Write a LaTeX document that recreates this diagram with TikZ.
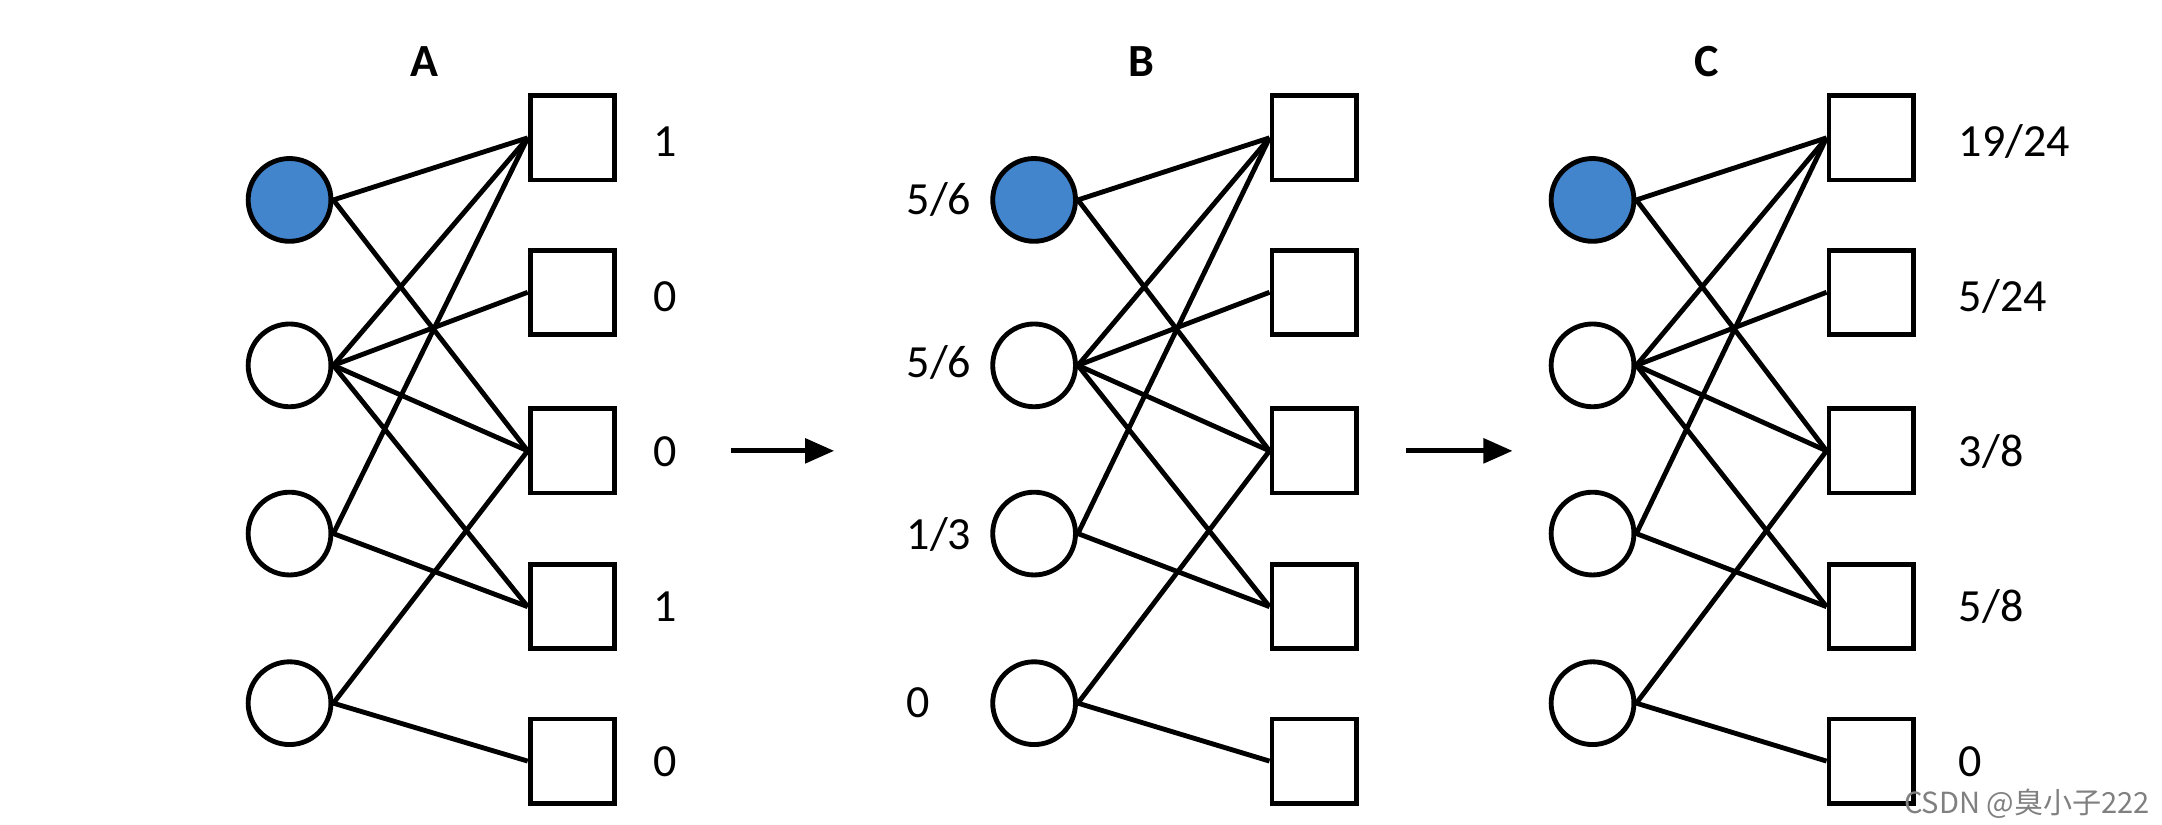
\documentclass[tikz,border=0pt]{standalone}
\usepackage{fontspec}
\setmainfont{Carlito}
\newfontfamily\cjk{Noto Sans CJK SC}
\usetikzlibrary{arrows.meta,positioning}
\definecolor{seedblue}{RGB}{66,133,205}
\tikzset{user/.style={circle, draw=black, line width=1pt, minimum size=0.6cm, inner sep=0pt}}
\tikzset{seed/.style={user, fill=seedblue}}
\tikzset{item/.style={rectangle, draw=black, line width=1pt, minimum size=0.61cm, inner sep=0pt}}
\tikzset{score/.style={font=\fontsize{9.5}{11}\selectfont, inner sep=0pt}}
\tikzset{title/.style={font=\fontsize{9.5}{11}\selectfont\bfseries, inner sep=0pt}}
\tikzset{edge/.style={line width=1pt}}
\begin{document}
\begin{tikzpicture}[x=0.01cm, y=-0.01cm]
\useasboundingbox (0,0) rectangle (1568,598);
\foreach \p/\cx/\sx in {A/210/415, B/750/953, C/1155/1357} {
    % users
    \node[seed] (\p-c1) at (\cx,145) {};
    \node[user] (\p-c2) at (\cx,265) {};
    \node[user] (\p-c3) at (\cx,387) {};
    \node[user] (\p-c4) at (\cx,510) {};
    % items
    \node[item] (\p-s1) at (\sx,100) {};
    \node[item] (\p-s2) at (\sx,212) {};
    \node[item] (\p-s3) at (\sx,327) {};
    \node[item] (\p-s4) at (\sx,440) {};
    \node[item] (\p-s5) at (\sx,552) {};
    \foreach \u/\i in {1/1, 1/3, 2/1, 2/2, 2/3, 2/4, 3/1, 3/4, 4/3, 4/5}
        \draw[edge] (\p-c\u.east) -- (\p-s\i.west);
}
\node[title] (tA) at (308,45) {A};
\node[title] (tB) at (828,45) {B};
\node[title] (tC) at (1238,45) {C};
% scores in A
\foreach \i/\v in {1/1, 2/0, 3/0, 4/1, 5/0}
    \node[score, anchor=west] (a\i) at (473,\i*112.5-10) {\v};
% scores in B
\node[score, anchor=west] (b1) at (657,145) {5/6};
\node[score, anchor=west] (b2) at (657,263) {5/6};
\node[score, anchor=west] (b3) at (657,388) {1/3};
\node[score, anchor=west] (b4) at (657,510) {0};
% scores in C
\foreach \i/\v in {1/19\slash 24, 2/5\slash 24, 3/3\slash 8, 4/5\slash 8, 5/0}
    \node[score, anchor=west] (c\i) at (1420,\i*112.5-10) {\v};
\coordinate (r1s) at (530,327);
\coordinate (r1e) at (605,327);
\coordinate (r2s) at (1020,327);
\coordinate (r2e) at (1097,327);
\draw[edge, -{Triangle[length=6pt, width=5pt]}] (r1s) -- (r1e);
\draw[edge, -{Triangle[length=6pt, width=5pt]}] (r2s) -- (r2e);
\node[anchor=east, font=\cjk\fontsize{6}{7}\selectfont, text=gray, inner sep=0pt] (wm) at (1560,583) {CSDN @臭小子222};
\end{tikzpicture}
\end{document}
